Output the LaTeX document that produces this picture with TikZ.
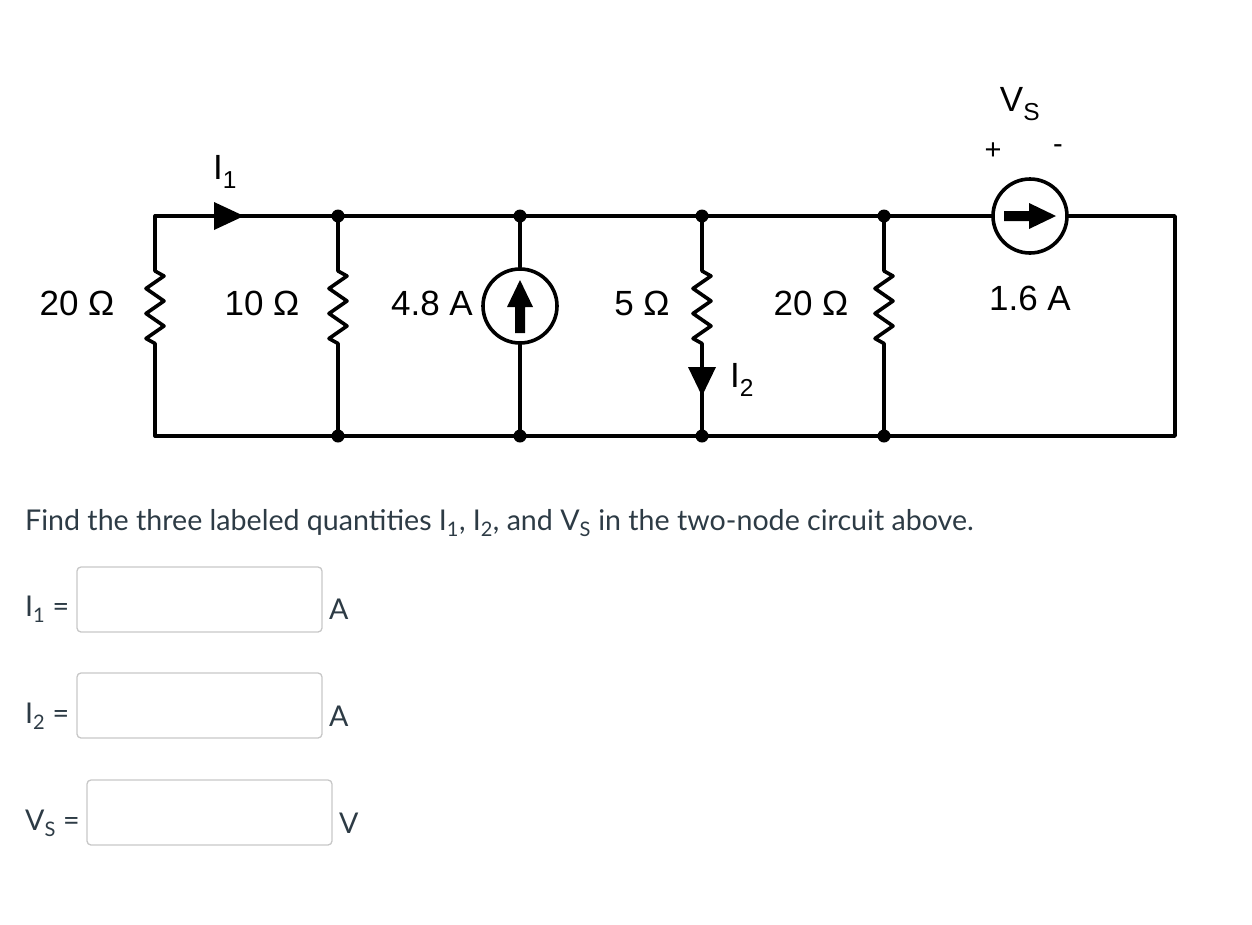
\documentclass[tikz,border=0pt]{standalone}
\usepackage{fontspec}
\setmainfont{Lato}
\newfontfamily\hv{Liberation Sans}
\usetikzlibrary{arrows.meta}
\definecolor{txt}{HTML}{2D3B45}
\begin{document}
\begin{tikzpicture}[x=1pt,y=-1pt,
  wire/.style={line width=3.6pt,line cap=round,line join=round},
  dot/.style={circle,fill=black,inner sep=0pt,minimum size=13pt},
  src/.style={circle,draw,line width=3.6pt,minimum size=74pt,inner sep=0pt},
  lab/.style={font=\hv\fontsize{35}{35}\selectfont,inner sep=0pt},
  qtxt/.style={font=\fontsize{28.6}{28.6}\selectfont,text=txt,inner sep=0pt},
  ansbox/.style={draw=black!22,line width=1.3pt,rounded corners=4pt,minimum width=245pt,minimum height=65pt,inner sep=0pt}]
\useasboundingbox (0,0) rectangle (1252,924);
\def\res#1{\draw[wire] (#1,216) -- (#1,271) -- ++(9,5) -- ++(-18,12.5) -- ++(18,12.5) -- ++(-18,12.5) -- ++(18,12.5) -- ++(-18,12.5) -- ++(9,5) -- (#1,436);}
% frame
\draw[wire] (155,216) -- (992,216);
\draw[wire] (1068,216) -- (1175,216) -- (1175,436) -- (155,436);
\res{155}\res{338}\res{702}\res{884}
\node[src] (cs1) at (520,306) {};
\draw[wire] (520,216) -- (cs1.north); \draw[wire] (cs1.south) -- (520,436);
\fill (520,280) -- (533,307) -- (525,307) -- (525,333) -- (515,333) -- (515,307) -- (507,307) -- cycle;
\node[src] (cs2) at (1030,216) {};
\fill (1056,216) -- (1029,203) -- (1029,211) -- (1004,211) -- (1004,221) -- (1029,221) -- (1029,229) -- cycle;
% dots
\foreach \x in {338,520,702,884}{\node[dot] at (\x,216) {}; \node[dot] at (\x,436) {};}
% current arrows
\fill (244,216) -- (214,202) -- (214,230) -- cycle;
\fill (702,396) -- (688,367) -- (716,367) -- cycle;
% labels
\node[lab] at (77,303) {20 Ω};
\node[lab] at (262,303) {10 Ω};
\node[lab] at (432,303) {4.8 A};
\node[lab] at (642,303) {5 Ω};
\node[lab] at (811,303) {20 Ω};
\node[lab] at (1030,298) {1.6 A};
\node[lab] at (225,172) {I\textsubscript{1}};
\node[lab] at (742,380) {I\textsubscript{2}};
\node[lab] at (1020,104) {V\textsubscript{S}};
\node[font=\hv\fontsize{29}{29}\selectfont] at (993,151) {+};
\node[font=\hv\fontsize{29}{29}\selectfont] at (1058,149) {-};
% question
\node[qtxt,anchor=west] at (25,523) {Find the three labeled quantities I\textsubscript{1}, I\textsubscript{2}, and V\textsubscript{S} in the two-node circuit above.};
\node[qtxt,anchor=west] at (25,609) {I\textsubscript{1} =};
\node[qtxt,anchor=west] at (25,716) {I\textsubscript{2} =};
\node[qtxt,anchor=west] at (25,823) {V\textsubscript{S} =};
\node[ansbox] (b1) at (199.5,599.5) {};
\node[ansbox] (b2) at (199.5,705.5) {};
\node[ansbox] (b3) at (209.5,812.5) {};
\node[qtxt,anchor=west] at (329,609) {A};
\node[qtxt,anchor=west] at (329,716) {A};
\node[qtxt,anchor=west] at (339,823) {V};
\end{tikzpicture}
\end{document}
